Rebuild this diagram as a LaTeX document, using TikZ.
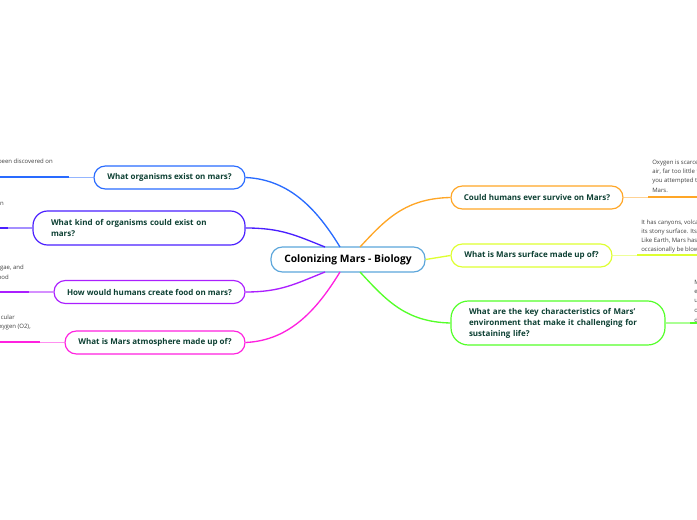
\documentclass[tikz,border=0pt]{standalone}
\usepackage{fontspec}
\setmainfont{Open Sans}
\definecolor{dtext}{rgb}{0.05,0.25,0.2}
\definecolor{dleaf}{rgb}{0.25,0.25,0.25}
\definecolor{dcenter}{rgb}{0.36,0.65,0.86}
\definecolor{dbluebr}{rgb}{0.16,0.42,1}
\definecolor{dviolet}{rgb}{0.29,0.12,1}
\definecolor{dpurple}{rgb}{0.67,0.12,1}
\definecolor{dmagenta}{rgb}{1,0.13,0.88}
\definecolor{dorange}{rgb}{1,0.65,0.15}
\definecolor{dyellow}{rgb}{0.87,1,0.19}
\definecolor{dgreen}{rgb}{0.33,1,0.16}
\tikzset{
    topic/.style={draw,fill=white,line width=0.9pt,rounded corners=8.5pt,minimum height=17.25pt,inner sep=0pt,text=dtext,font=\fontsize{6}{8.25}\selectfont\bfseries},
    wide/.style={align=left,inner xsep=13.5pt},
    leaf/.style={inner sep=0pt,text=dleaf,font=\fontsize{4.5}{7}\selectfont},
    branch/.style={line width=1pt},
}
\begin{document}
\begin{tikzpicture}[x=0.75pt,y=-0.75pt]
\useasboundingbox (0,0) rectangle (697,520);
\clip (0,0) rectangle (697,520);
\node[topic,draw=dcenter,minimum width=115.5pt,minimum height=18.75pt,text=black,font=\fontsize{7.7}{10}\selectfont\bfseries] (center) at (348,259.5) {Colonizing Mars - Biology};
\node[topic,draw=dbluebr,minimum width=113.25pt] (organisms) at (169.5,177.5) {What organisms exist on mars?};
\node[topic,wide,draw=dviolet,rounded corners=11pt,minimum height=25.5pt,text width=132pt] (kinds) at (139,228) {What kind of organisms could exist on\\mars?};
\node[topic,draw=dpurple,minimum width=143.25pt] (food) at (149.5,292) {How would humans create food on mars?};
\node[topic,draw=dmagenta,minimum width=135pt] (atmosphere) at (155,342.5) {What is Mars atmosphere made up of?};
\node[topic,draw=dorange,minimum width=129pt] (survive) at (537,197.5) {Could humans ever survive on Mars?};
\node[topic,draw=dyellow,minimum width=120.75pt] (surface) at (531.5,255.5) {What is Mars surface made up of?};
\node[topic,wide,draw=dgreen,rounded corners=13pt,minimum height=33pt,text width=133.5pt] (traits) at (558,323) {What are the key characteristics of Mars'\\environment that make it challenging for\\sustaining life?};
% anchors on the central box
\coordinate (topa) at (340,247);
\coordinate (topb) at (325,247);
\coordinate (topc) at (360,247);
\coordinate (lowa) at (340,272);
\coordinate (lowb) at (325,272);
\coordinate (lowc) at (360,272);
\draw[branch,dbluebr] (organisms.east) .. controls +(45,2) and +(-22,-36) .. (topa);
\draw[branch,dviolet] (kinds.east) .. controls +(35,0) and +(-30,-12) .. (topb);
\draw[branch,dpurple] (food.east) .. controls +(35,0) and +(-30,12) .. (lowb);
\draw[branch,dmagenta] (atmosphere.east) .. controls +(45,-2) and +(-22,36) .. (lowa);
\draw[branch,dorange] (survive.west) .. controls +(-45,1) and +(26,-28) .. (topc);
\draw[branch,dyellow] (surface.west) -- (center.east);
\draw[branch,dgreen] (traits.west) .. controls +(-45,-1) and +(26,28) .. (lowc);
% leaf lines
\foreach \nd/\col/\px/\py/\pend in {organisms/dbluebr/69/177.5/0,kinds/dviolet/8/228/0,food/dpurple/29/292/0,atmosphere/dmagenta/40/342.5/0,survive/dorange/648/197.5/697,surface/dyellow/637/255.5/697,traits/dgreen/690/323/697} {
    \coordinate (\nd bend) at (\px,\py);
    \coordinate (\nd end) at (\pend,\py);
    \draw[\col!50!white,line width=1.25pt] (\nd) -- (\nd bend);
    \draw[\col,line width=1.5pt] (\nd bend) -- (\nd end);
}
\node[leaf,anchor=east] (organismsa) at (53,161) {been discovered on};
\node[leaf,anchor=east] (kindsa) at (4,204) {n};
\node[leaf,anchor=east] (fooda) at (24,268) {algae, and};
\node[leaf,anchor=east] (foodb) at (9,277) {ood};
\node[leaf,anchor=east] (atmospherea) at (15,317) {cular};
\node[leaf,anchor=east] (atmosphereb) at (31,327) {oxygen (O2),};
\node[leaf,anchor=west] (survivea) at (652,163) {Oxygen is scarce};
\node[leaf,anchor=west] (surviveb) at (652,172) {air, far too little f};
\node[leaf,anchor=west] (survivec) at (652,181) {you attempted to};
\node[leaf,anchor=west] (survived) at (652,190) {Mars.};
\node[leaf,anchor=west] (surfacea) at (641,223) {It has canyons, volca};
\node[leaf,anchor=west] (surfaceb) at (641,232) {its stony surface. Its};
\node[leaf,anchor=west] (surfacec) at (641,241) {Like Earth, Mars has};
\node[leaf,anchor=west] (surfaced) at (641,249.5) {occasionally be blow};
\node[leaf,anchor=west] (traitsa) at (694,282) {M};
\node[leaf,anchor=west] (traitsb) at (694,292) {e};
\node[leaf,anchor=west] (traitsc) at (694,301) {u};
\node[leaf,anchor=west] (traitsd) at (694,311) {o};
\node[leaf,anchor=west] (traitse) at (694,320) {d};
\end{tikzpicture}
\end{document}
